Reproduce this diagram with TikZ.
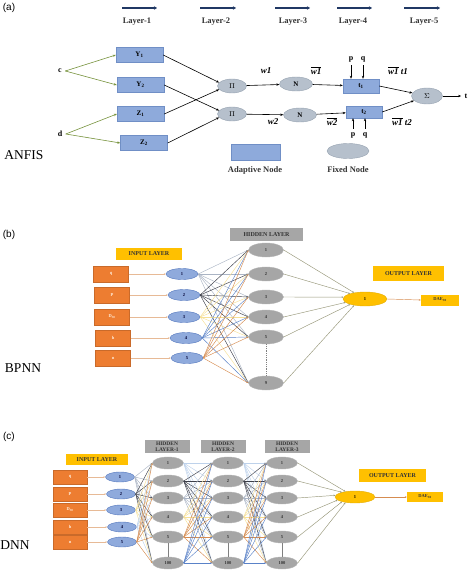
\documentclass[tikz,border=0pt]{standalone}
\usepackage{fontspec}
\setmainfont{Liberation Serif}
\setsansfont{Liberation Sans}
\usetikzlibrary{arrows.meta,shapes.geometric}
\definecolor{adablue}{RGB}{142,170,219}
\definecolor{adaedge}{RGB}{112,143,198}
\definecolor{fixgray}{RGB}{182,192,204}
\definecolor{fixedge}{RGB}{150,162,176}
\definecolor{ingreen}{RGB}{118,146,60}
\definecolor{laynavy}{RGB}{32,56,100}
\definecolor{nodeblue}{RGB}{143,170,220}
\definecolor{nodeedge}{RGB}{84,120,190}
\definecolor{hidgray}{RGB}{166,166,166}
\definecolor{hidedge}{RGB}{128,128,128}
\definecolor{labgold}{RGB}{255,192,0}
\definecolor{boxorange}{RGB}{237,125,49}
\definecolor{wlgray}{RGB}{170,180,196}
\definecolor{wlblue}{RGB}{190,210,235}
\definecolor{wdark}{RGB}{60,62,72}
\definecolor{wyellow}{RGB}{246,224,150}
\definecolor{wblue}{RGB}{90,130,200}
\definecolor{worange}{RGB}{214,140,80}
\definecolor{wolive}{RGB}{150,150,120}
\newcommand{\wbar}[1]{$\overline{\hbox{\bfseries\itshape #1}}$}
\tikzset{
  arr/.style={-{Stealth[length=3pt,width=2.4pt]},line width=0.6pt},
  wire/.style={line width=0.45pt,-{Stealth[length=2pt,width=1.6pt]}},
  adaptive/.style={rectangle,draw=adaedge,fill=adablue,inner sep=0pt,
    minimum width=47pt,minimum height=15pt,font=\fontsize{7}{8}\selectfont\bfseries},
  fixnode/.style={ellipse,draw=fixedge,fill=fixgray,inner sep=0pt,
    minimum width=29pt,minimum height=14pt,font=\fontsize{7}{8}\selectfont\bfseries},
  layerarrow/.style={laynavy,line width=1.1pt,-{Stealth[length=3pt,width=3.5pt]}},
  layertext/.style={font=\fontsize{8.5}{10}\selectfont\bfseries,text=black!80},
  wtext/.style={font=\fontsize{9}{10}\selectfont\bfseries\itshape},
  smalltext/.style={font=\fontsize{8}{9}\selectfont\bfseries},
  panel/.style={font=\sffamily\fontsize{10}{12}\selectfont},
  netname/.style={font=\fontsize{13.5}{15}\selectfont},
  inbox/.style={rectangle,fill=boxorange,draw=boxorange!85!black,inner sep=0pt,
    text=white!85!orange,font=\fontsize{4.5}{5}\selectfont\bfseries},
  innode/.style={ellipse,fill=nodeblue,draw=nodeedge,inner sep=0pt,
    font=\fontsize{4.5}{5}\selectfont\bfseries,text=black!80!blue},
  hidnode/.style={ellipse,fill=hidgray,draw=hidedge!60,inner sep=0pt,
    font=\fontsize{4.5}{5}\selectfont\bfseries,text=black!80},
  outnode/.style={ellipse,fill=labgold,draw=labgold!90!black,inner sep=0pt,
    font=\fontsize{4.5}{5}\selectfont\bfseries},
  goldlabel/.style={rectangle,fill=labgold,inner sep=0pt,
    font=\fontsize{6}{7}\selectfont\bfseries,text=black!80},
  graylabel/.style={rectangle,fill=hidgray,inner sep=0pt,align=center,
    font=\fontsize{6}{7}\selectfont\bfseries,text=black!80},
}

\begin{document}
\begin{tikzpicture}[x=1pt,y=-1pt]
\useasboundingbox (0,0) rectangle (474,572);
% (a) ANFIS
\node[panel] (pa) at (9,8) {(a)};
\foreach \i/\xa/\xb/\xt in {1/122/157/137,2/200/236/216,3/275/310/293,4/337/372/353,5/404/440/424}{
  \coordinate (la\i) at (\xa,8);
  \coordinate (lb\i) at (\xb,8);
  \draw[layerarrow] (la\i) -- (lb\i);
  \node[layertext] (lt\i) at (\xt,22) {Layer-\i};
}
\node[adaptive] (y1) at (139.5,55) {Y\textsubscript{1}};
\node[adaptive] (y2) at (140.5,85) {Y\textsubscript{2}};
\node[adaptive] (z1) at (140.5,114) {Z\textsubscript{1}};
\node[adaptive] (z2) at (144,143) {Z\textsubscript{2}};
\node[smalltext] (c) at (60,71) {c};
\node[smalltext] (d) at (60,134) {d};
\draw[ingreen,arr] (c.east) -- (y1.west);
\draw[ingreen,arr] (c.east) -- (y2.west);
\draw[ingreen,arr] (d.east) -- (z1.west);
\draw[ingreen,arr] (d.east) -- (z2.west);
\node[fixnode] (pi1) at (232,86) {$\Pi$};
\node[fixnode] (pi2) at (232,114) {$\Pi$};
\draw[arr] (y1.east) -- (pi1.165);
\draw[arr] (z1.east) -- (pi1.195);
\draw[arr] (y2.east) -- (pi2.165);
\draw[arr] (z2.east) -- (pi2.195);
\node[fixnode,minimum width=33pt] (n1) at (296,84) {N};
\node[fixnode,minimum width=33pt] (n2) at (300,115) {N};
\node[adaptive,minimum width=36pt,minimum height=14pt] (t1) at (361,86) {t\textsubscript{1}};
\node[adaptive,minimum width=36pt,minimum height=12pt] (t2) at (364,112) {t\textsubscript{2}};
\node[fixnode,minimum width=31pt,minimum height=16pt] (sig) at (427,96) {$\Sigma$};
\node[smalltext] (tout) at (466,96) {t};
\draw[arr] (pi1) -- (n1);
\draw[arr] (pi2) -- (n2);
\draw[arr] (n1) -- (t1);
\draw[arr] (n2) -- (t2);
\draw[arr] (t1.east) -- (sig);
\draw[arr] (t2.east) -- (sig);
\draw[arr] (sig) -- (tout);
\node[smalltext] (pt) at (351,59) {p};
\node[smalltext] (qt) at (363,59) {q};
\draw[arr] (pt.south) -- (pt.south |- t1.north);
\draw[arr] (qt.south) -- (qt.south |- t1.north);
\node[smalltext] (pb) at (353,135) {p};
\node[smalltext] (qb) at (365,135) {q};
\draw[arr] (pb.north) -- (pb.north |- t2.south);
\draw[arr] (qb.north) -- (qb.north |- t2.south);
\node[wtext] (w1) at (266,71) {w1};
\node[wtext] (w1b) at (316,71) {\wbar{w1}};
\node[wtext] (w1t) at (398,71) {\wbar{w1}\ t1};
\node[wtext] (w2) at (273,122) {w2};
\node[wtext] (w2b) at (332,122) {\wbar{w2}};
\node[wtext] (w2t) at (402,122) {\wbar{w1}\ t2};
\node[adaptive,minimum width=49pt,minimum height=16pt] (leg1) at (255.5,152) {};
\node[layertext] (leg1t) at (255,170) {Adaptive Node};
\node[fixnode,minimum width=42pt,minimum height=15pt] (leg2) at (348,151) {};
\node[layertext] (leg2t) at (348,170) {Fixed Node};
\node[netname] (anfis) at (24,155) {ANFIS};

% (b) BPNN
\node[panel] (pb) at (9,235) {(b)};
\node[netname] (bpnn) at (23,368) {BPNN};
\node[goldlabel,minimum width=66pt,minimum height=12pt] (bil) at (149,254) {INPUT LAYER};
\node[graylabel,minimum width=73pt,minimum height=13pt] (bhl) at (266.5,234.5) {HIDDEN LAYER};
\node[goldlabel,minimum width=71pt,minimum height=15pt] (bol) at (408.5,273.5) {OUTPUT LAYER};
\foreach \lab/\xb/\xn/\y [count=\i] in {q/111/182/274,P/112/184/295,D\textsubscript{50}/112/184/317,h/113/186/338,n/113/187/358}{
  \node[inbox,minimum width=35pt,minimum height=16pt] (bi\i) at (\xb,\y) {\lab};
  \node[innode,minimum width=32pt,minimum height=11pt] (bn\i) at (\xn,\y) {\i};
  \draw[worange!60,wire] (bi\i.east) -- (bn\i.west);
}
\foreach \lab/\y [count=\j] in {1/250,2/274,3/297,4/317,5/337,9/383}{
  \node[hidnode,minimum width=35pt,minimum height=14pt] (bh\j) at (266,\y) {\lab};
}
\draw[hidedge,densely dotted,line width=0.8pt] (bh5) -- (bh6);
\foreach \i/\col in {1/wlgray,2/wdark,3/wyellow,4/wblue,5/worange}{
  \foreach \j in {1,...,6}{
    \draw[\col,wire] (bn\i.east) -- (bh\j.west);
  }
}
\node[outnode,minimum width=44pt,minimum height=14pt] (bo) at (365,299) {1};
\node[goldlabel,minimum width=38pt,minimum height=11pt,font=\fontsize{4.5}{5}\selectfont\bfseries] (bd) at (440,300) {DAE\textsubscript{50}};
\foreach \j/\ang in {1/150,2/160,3/175,4/190,5/200,6/210}{
  \draw[wolive,wire] (bh\j.east) -- (bo.\ang);
}
\draw[worange,wire] (bo.east) -- (bd.west);

% (c) DNN
\node[panel] (pc) at (9,437) {(c)};
\node[netname] (dnn) at (15,545) {DNN};
\node[goldlabel,minimum width=62pt,minimum height=11pt] (cil) at (97,459.5) {INPUT LAYER};
\foreach \k/\x in {1/167,2/223,3/287}{
  \node[graylabel,minimum width=45pt,minimum height=13pt,font=\fontsize{5.5}{6}\selectfont\bfseries] (chl\k) at (\x,446.5) {HIDDEN\\LAYER-\k};
}
\node[goldlabel,minimum width=67pt,minimum height=13pt] (col) at (392.5,475.5) {OUTPUT LAYER};
\foreach \lab/\y/\xn [count=\i] in {q/477/120,P/494/121,D\textsubscript{50}/510/121,h/527/122,n/542/122}{
  \node[inbox,minimum width=34pt,minimum height=14pt] (ci\i) at (70,\y) {\lab};
  \node[innode,minimum width=29pt,minimum height=10pt] (cn\i) at (\xn,\y) {\i};
  \draw[worange!60,wire] (ci\i.east) -- (cn\i.west);
}
\foreach \k/\x in {1/168,2/228,3/282}{
  \foreach \lab/\y [count=\j] in {1/463,2/481,3/498,4/517,5/537,100/563}{
    \node[hidnode,minimum width=31pt,minimum height=12pt] (h\k-\j) at (\x,\y) {\lab};
  }
  \draw[hidedge,line width=0.6pt] (h\k-5) -- (h\k-6);
}
\foreach \i/\col in {1/wlgray,2/wdark,3/wyellow,4/wlblue,5/worange}{
  \foreach \j in {1,...,6}{
    \draw[\col,wire] (cn\i.east) -- (h1-\j.west);
  }
}
\foreach \i/\col in {1/wlblue,2/wdark,3/wlgray,4/wyellow,5/worange,6/wblue}{
  \foreach \j in {1,...,6}{
    \draw[\col,wire] (h1-\i.east) -- (h2-\j.west);
    \draw[\col,wire] (h2-\i.east) -- (h3-\j.west);
  }
}
\node[outnode,minimum width=40pt,minimum height=12pt] (co) at (355,497) {1};
\node[goldlabel,minimum width=36pt,minimum height=10pt,font=\fontsize{4.5}{5}\selectfont\bfseries] (cd) at (425,497) {DAE\textsubscript{50}};
\foreach \j/\ang in {1/150,2/160,3/175,4/190,5/200,6/210}{
  \draw[wolive,wire] (h3-\j.east) -- (co.\ang);
}
\draw[worange,wire] (co.east) -- (cd.west);
\end{tikzpicture}
\end{document}
